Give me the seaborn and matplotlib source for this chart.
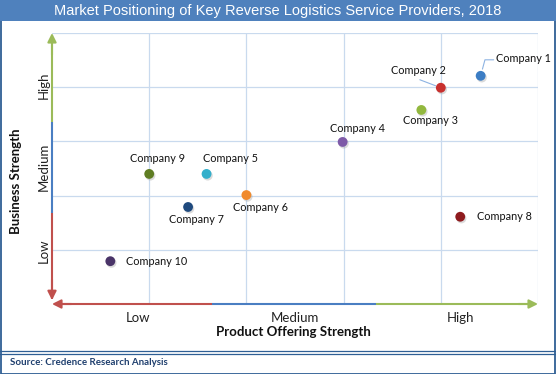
import matplotlib
matplotlib.use("Agg")
import matplotlib.pyplot as plt
import seaborn as sns
import pandas as pd
from matplotlib.lines import Line2D
from matplotlib.patches import Rectangle

companies = ["Company 1", "Company 2", "Company 3", "Company 4", "Company 5",
             "Company 6", "Company 7", "Company 8", "Company 9", "Company 10"]
product_strength = [4.41, 4.00, 3.80, 2.99, 1.59, 2.00, 1.40, 4.20, 1.00, 0.60]
business_strength = [4.21, 3.99, 3.58, 2.99, 2.40, 2.01, 1.79, 1.61, 2.40, 0.79]
level_labels = ["Low", "Medium", "High"]
title = "Market Positioning of Key Reverse Logistics Service Providers, 2018"
source = "Source: Credence Research Analysis"

colors = ["#3C7DC4", "#C8302E", "#92B83E", "#7E5AA8", "#34AFCB",
          "#F08A2C", "#1F4A7E", "#8E1B1E", "#5F7D23", "#4A3468"]

# label offsets in pixels (dx, dy, ha)
label_offsets = {
    "Company 1": (15, 17, "left"), "Company 2": (-22, 17, "center"),
    "Company 3": (9, -11, "center"), "Company 4": (15, 13, "center"),
    "Company 5": (24, 15, "center"), "Company 6": (14, -12, "center"),
    "Company 7": (8, -13, "center"), "Company 8": (17, 0, "left"),
    "Company 9": (8, 15, "center"), "Company 10": (16, 0, "left"),
}

df = pd.DataFrame({"company": companies, "x": product_strength, "y": business_strength})

sns.set_style("white")
plt.rcParams["font.family"] = ["Lato", "DejaVu Sans"]

W, H = 556, 374
fig = plt.figure(figsize=(W / 100, H / 100), dpi=100)
fig.patch.set_facecolor("white")

# frame and title band
fig.add_artist(Rectangle((0.5 / W, 0.5 / H), 1 - 1.5 / W, 1 - 1.5 / H, transform=fig.transFigure,
                         fill=False, edgecolor="#2F5F94", lw=1.3))
fig.add_artist(Rectangle((0, 1 - 21 / H), 1, 21 / H, transform=fig.transFigure,
                         facecolor="#4F81BD", edgecolor="none"))
fig.text(0.5, 1 - 11 / H, title, ha="center", va="center", color="white", fontsize=10.5,
         family=["Liberation Sans", "DejaVu Sans"])
for yy in (351, 353.5):
    fig.add_artist(Line2D([0, 1], [1 - yy / H, 1 - yy / H], transform=fig.transFigure,
                          color="#2F5F94", lw=0.9))
fig.text(10 / W, 1 - 362.5 / H, source, ha="left", va="center", color="#1F3F6E",
         fontsize=7, fontweight="bold")

x0, x1, ytop, ybot = 52, 538, 33, 304
ax = fig.add_axes([x0 / W, 1 - ybot / H, (x1 - x0) / W, (ybot - ytop) / H])
ax.set_xlim(0, 5)
ax.set_ylim(0, 5)
for s in ax.spines.values():
    s.set_visible(False)
ax.set_xticks([1, 2, 3, 4, 5])
ax.set_yticks([1, 2, 3, 4, 5])
ax.grid(True, color="#C9DAEE", lw=0.9)
ax.tick_params(length=0, labelbottom=False, labelleft=False)
ax.set_axisbelow(True)

red, blue, green = "#C0504D", "#4A7EC2", "#9BBB59"
# x-axis segments
ax.plot([0.03, 1.65], [0, 0], color=red, lw=1.5, clip_on=False, solid_capstyle="butt")
ax.plot([1.65, 3.33], [0, 0], color=blue, lw=1.5, clip_on=False, solid_capstyle="butt")
ax.plot([3.33, 4.95], [0, 0], color=green, lw=1.5, clip_on=False, solid_capstyle="butt")
ax.annotate("", xy=(0.0, 0), xytext=(0.2, 0), arrowprops=dict(arrowstyle="-|>", color=red, lw=1.5,
            mutation_scale=13, shrinkA=0, shrinkB=0), annotation_clip=False)
ax.annotate("", xy=(5.0, 0), xytext=(4.8, 0), arrowprops=dict(arrowstyle="-|>", color=green, lw=1.5,
            mutation_scale=13, shrinkA=0, shrinkB=0), annotation_clip=False)
# y-axis segments
ax.plot([0, 0], [0.1, 1.68], color=red, lw=1.5, clip_on=False, solid_capstyle="butt")
ax.plot([0, 0], [1.68, 3.36], color=blue, lw=1.5, clip_on=False, solid_capstyle="butt")
ax.plot([0, 0], [3.36, 4.9], color=green, lw=1.5, clip_on=False, solid_capstyle="butt")
ax.annotate("", xy=(0, 0.07), xytext=(0, 0.45), arrowprops=dict(arrowstyle="-|>", color=red, lw=1.5,
            mutation_scale=13, shrinkA=0, shrinkB=0), annotation_clip=False)
ax.annotate("", xy=(0, 5.0), xytext=(0, 4.6), arrowprops=dict(arrowstyle="-|>", color=green, lw=1.5,
            mutation_scale=13, shrinkA=0, shrinkB=0), annotation_clip=False)

# level labels
for lab, xc in zip(level_labels, [0.885, 2.5, 4.2]):
    ax.text(xc, -0.26, lab, ha="center", va="center", fontsize=9.5, color="#222222", clip_on=False)
for lab, yc in zip(level_labels, [0.98, 2.54, 4.04]):
    ax.text(-0.09, yc, lab, ha="center", va="center", rotation=90, fontsize=9.5,
            color="#222222", clip_on=False)
fig.text(293 / W, 1 - 332 / H, "Product Offering Strength", ha="center", va="center",
         fontsize=9.5, fontweight="bold", color="#111111")
fig.text(16 / W, 1 - 181 / H, "Business Strength", ha="center", va="center", rotation=90,
         fontsize=9.5, fontweight="bold", color="#111111")

# shadows
ax.scatter([v + 0.012 for v in df["x"]], [v - 0.03 for v in df["y"]], s=52, color="#999999",
           alpha=0.35, edgecolors="none", zorder=2)
sns.scatterplot(data=df, x="x", y="y", hue="company", palette=colors, s=50, edgecolor="none",
                legend=False, ax=ax, zorder=3)
ax.set_xlabel("")
ax.set_ylabel("")

for c, xv, yv in zip(companies, product_strength, business_strength):
    dx, dy, ha = label_offsets[c]
    ax.annotate(c, (xv, yv), xytext=(dx, dy), textcoords="offset pixels", ha=ha, va="center",
                fontsize=7.8, color="#111111")

# leader lines (pixel offsets from dots)
lc = "#8DB3E2"
ax.annotate("", (product_strength[0], business_strength[0]), xytext=(13, 16), textcoords="offset pixels",
            arrowprops=dict(arrowstyle="-", color=lc, lw=0.8, shrinkA=0, shrinkB=5,
                            connectionstyle="angle,angleA=0,angleB=75,rad=0"))
ax.annotate("", (product_strength[1], business_strength[1]), xytext=(-21, 8), textcoords="offset pixels",
            arrowprops=dict(arrowstyle="-", color=lc, lw=0.8, shrinkA=0, shrinkB=4))

fig.savefig("out.png", dpi=100)
